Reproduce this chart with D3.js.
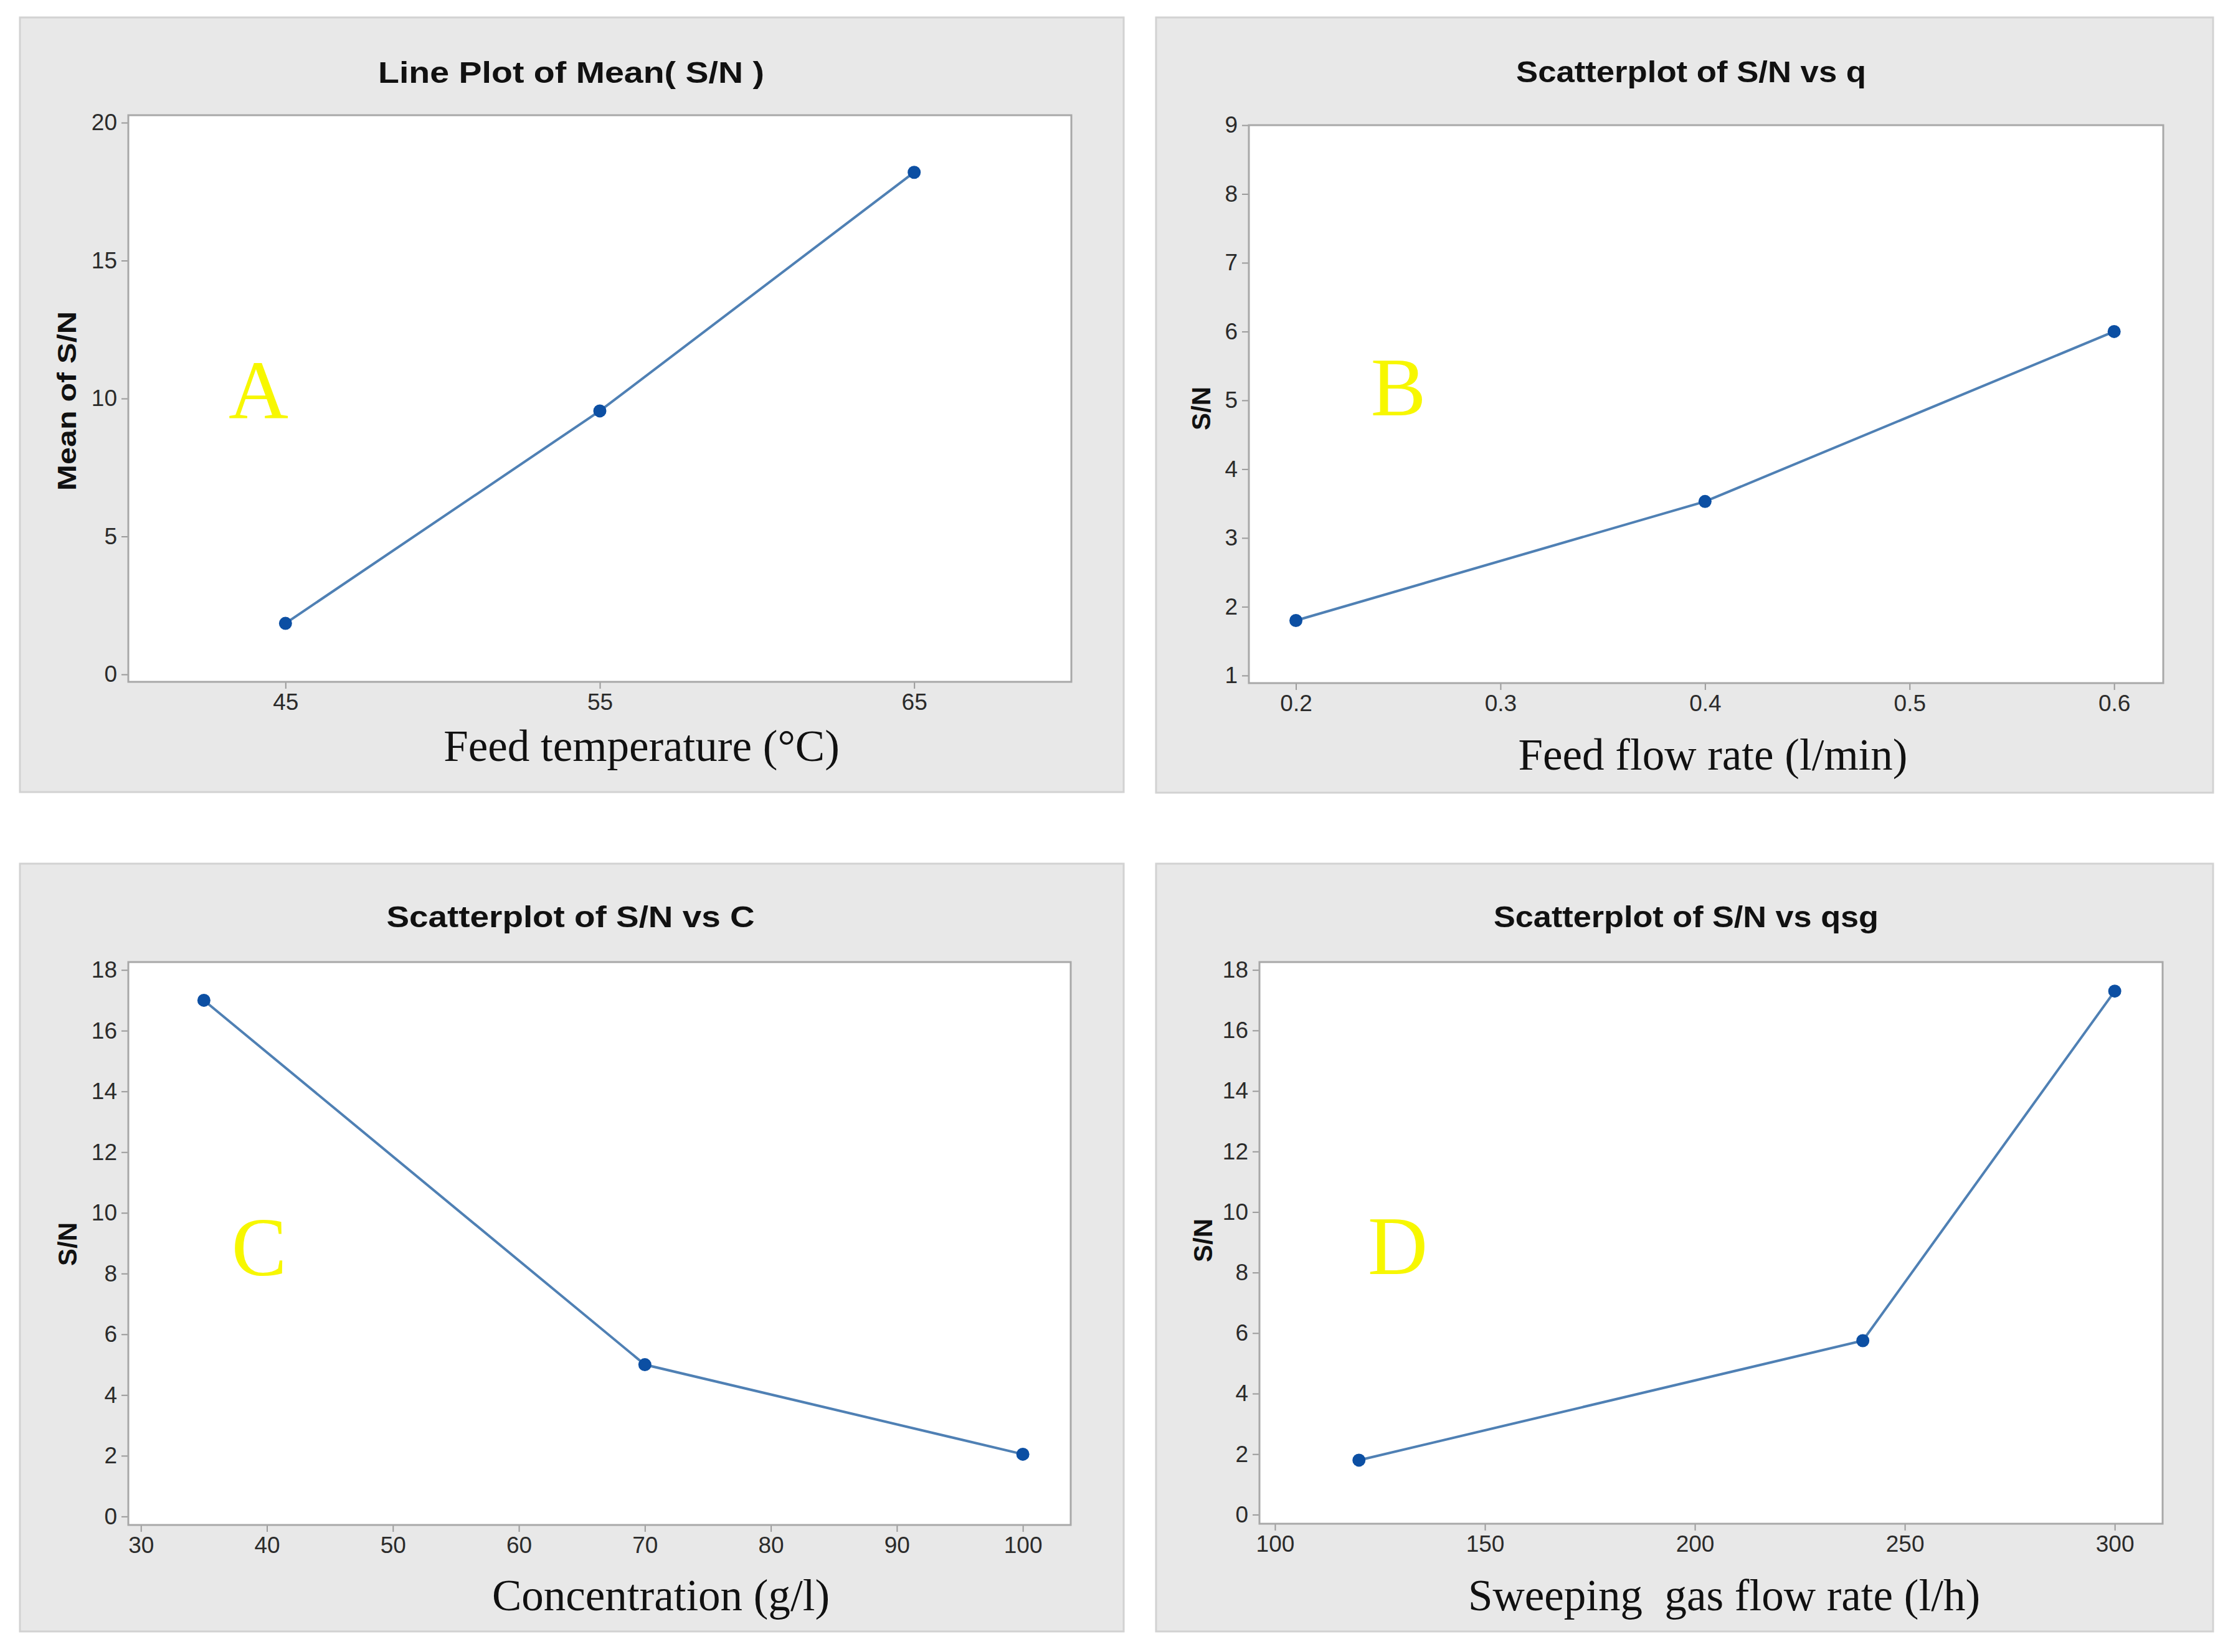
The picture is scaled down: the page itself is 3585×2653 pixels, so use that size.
<!DOCTYPE html>
<html>
<head>
<meta charset="utf-8">
<script src="https://cdn.jsdelivr.net/npm/d3@7"></script>
<style>
  html, body { margin: 0; padding: 0; background: #ffffff; }
  svg { display: block; }
  .tick text { font-family: "Liberation Sans Narrow", "Liberation Sans", Arial, sans-serif; font-size: 37px; fill: #2b2b2b; }
  .tick line { stroke: #9a9a9a; stroke-width: 2; }
</style>
</head>
<body>
<svg id="chart" width="3585" height="2653"></svg>
<script>
// ---- Data ----
const panelTitles = ["Line Plot of Mean( S/N )", "Scatterplot of S/N vs q", "Scatterplot of S/N vs C", "Scatterplot of S/N vs qsg"];
const panelLetters = ["A", "B", "C", "D"];
const yLabels = ["Mean of S/N", "S/N", "S/N", "S/N"];
const xLabels = ["Feed temperature (\u00B0C)", "Feed flow rate (l/min)", "Concentration (g/l)", "Sweeping  gas flow rate (l/h)"];

const tempX = [45, 55, 65];
const tempY = [1.85, 9.55, 18.2];
const flowX = [0.2, 0.4, 0.6];
const flowY = [1.8, 3.53, 6.0];
const concX = [35, 70, 100];
const concY = [17.0, 5.0, 2.05];
const sweepX = [120, 240, 300];
const sweepY = [1.8, 5.75, 17.3];

const xTicksA = [45, 55, 65];
const yTicksA = [0, 5, 10, 15, 20];
const xTicksB = [0.2, 0.3, 0.4, 0.5, 0.6];
const yTicksB = [1, 2, 3, 4, 5, 6, 7, 8, 9];
const xTicksC = [30, 40, 50, 60, 70, 80, 90, 100];
const yTicksC = [0, 2, 4, 6, 8, 10, 12, 14, 16, 18];
const xTicksD = [100, 150, 200, 250, 300];
const yTicksD = [0, 2, 4, 6, 8, 10, 12, 14, 16, 18];

// ---- Layout (styling, not data) ----
const panels = [
  { box: [32, 28, 1772, 1244], plot: [206, 185, 1720, 1095], xDom: [40, 70], yDom: [-0.27, 20.27],
    xs: tempX, ys: tempY, xt: xTicksA, yt: yTicksA, xf: d3.format("d"),
    title: [917, 133, 620], ylab: [122, 644, 288], xlab: [1030, 1222], letter: [415, 671] },
  { box: [1856, 28, 1697, 1245], plot: [2005, 201, 3473, 1097], xDom: [0.177, 0.624], yDom: [0.89, 9.0],
    xs: flowX, ys: flowY, xt: xTicksB, yt: yTicksB, xf: d3.format(".1f"),
    title: [2715, 132, 562], ylab: [1943, 656, 0], xlab: [2750, 1236], letter: [2245, 667] },
  { box: [32, 1387, 1772, 1233], plot: [206, 1545, 1719, 2449], xDom: [29, 103.8], yDom: [-0.28, 18.26],
    xs: concX, ys: concY, xt: xTicksC, yt: yTicksC, xf: d3.format("d"),
    title: [916, 1489, 591], ylab: [123, 1998, 0], xlab: [1061, 2586], letter: [416, 2048] },
  { box: [1856, 1387, 1697, 1233], plot: [2022, 1545, 3472, 2447], xDom: [96.3, 311.4], yDom: [-0.3, 18.26],
    xs: sweepX, ys: sweepY, xt: xTicksD, yt: yTicksD, xf: d3.format("d"),
    title: [2707, 1489, 618], ylab: [1946, 1992, 0], xlab: [2768, 2586], letter: [2244, 2046] }
];

const svg = d3.select("#chart");

panels.forEach((p, i) => {
  const g = svg.append("g");
  const [bx, by, bw, bh] = p.box;
  g.append("rect").attr("x", bx).attr("y", by).attr("width", bw).attr("height", bh)
    .attr("fill", "#e8e8e8").attr("stroke", "#d2d2d2").attr("stroke-width", 3);

  const [x0, y0, x1, y1] = p.plot;
  const x = d3.scaleLinear().domain(p.xDom).range([x0, x1]);
  const y = d3.scaleLinear().domain(p.yDom).range([y1, y0]);

  g.append("rect").attr("x", x0).attr("y", y0).attr("width", x1 - x0).attr("height", y1 - y0)
    .attr("fill", "#ffffff");

  const yAxis = g.append("g").attr("transform", `translate(${x0},0)`)
    .call(d3.axisLeft(y).tickValues(p.yt).tickSize(11).tickPadding(7).tickFormat(d3.format("d")));
  yAxis.select(".domain").remove();

  const xAxis = g.append("g").attr("transform", `translate(0,${y1})`)
    .call(d3.axisBottom(x).tickValues(p.xt).tickSize(11).tickPadding(8).tickFormat(p.xf));
  xAxis.select(".domain").remove();

  g.append("rect").attr("x", x0).attr("y", y0).attr("width", x1 - x0).attr("height", y1 - y0)
    .attr("fill", "none").attr("stroke", "#a8a8a8").attr("stroke-width", 3);

  // Big yellow letter
  g.append("text").attr("x", p.letter[0]).attr("y", p.letter[1])
    .attr("text-anchor", "middle")
    .style("font-family", "'Liberation Serif', 'Times New Roman', serif")
    .style("font-size", "133px").style("fill", "#f7f700")
    .text(panelLetters[i]);

  const pts = p.xs.map((v, k) => [v, p.ys[k]]);
  g.append("path").datum(pts)
    .attr("d", d3.line().x(d => x(d[0])).y(d => y(d[1])))
    .attr("fill", "none").attr("stroke", "#4f80b4").attr("stroke-width", 4);
  g.selectAll("circle.pt").data(pts).enter().append("circle")
    .attr("class", "pt")
    .attr("cx", d => x(d[0])).attr("cy", d => y(d[1])).attr("r", 10.5)
    .attr("fill", "#0c4fa3");

  // Title
  g.append("text").attr("x", p.title[0]).attr("y", p.title[1])
    .attr("text-anchor", "middle")
    .attr("textLength", p.title[2]).attr("lengthAdjust", "spacingAndGlyphs")
    .style("font-family", "'Liberation Sans', Arial, sans-serif")
    .style("font-weight", "bold").style("font-size", "48px").style("fill", "#111")
    .text(panelTitles[i]);

  // Y label
  const yl = g.append("text")
    .attr("transform", `translate(${p.ylab[0]},${p.ylab[1]}) rotate(-90)`)
    .attr("text-anchor", "middle")
    .style("font-family", "'Liberation Sans', Arial, sans-serif")
    .style("font-weight", "bold").style("font-size", "42px").style("fill", "#111")
    .text(yLabels[i]);
  if (p.ylab[2] > 0) yl.attr("textLength", p.ylab[2]).attr("lengthAdjust", "spacingAndGlyphs");

  // X label
  g.append("text").attr("x", p.xlab[0]).attr("y", p.xlab[1])
    .attr("text-anchor", "middle")
    .style("white-space", "pre")
    .style("font-family", "'Liberation Serif', 'Times New Roman', serif")
    .style("font-size", "71px").style("fill", "#111")
    .text(xLabels[i]);
});
</script>
</body>
</html>
